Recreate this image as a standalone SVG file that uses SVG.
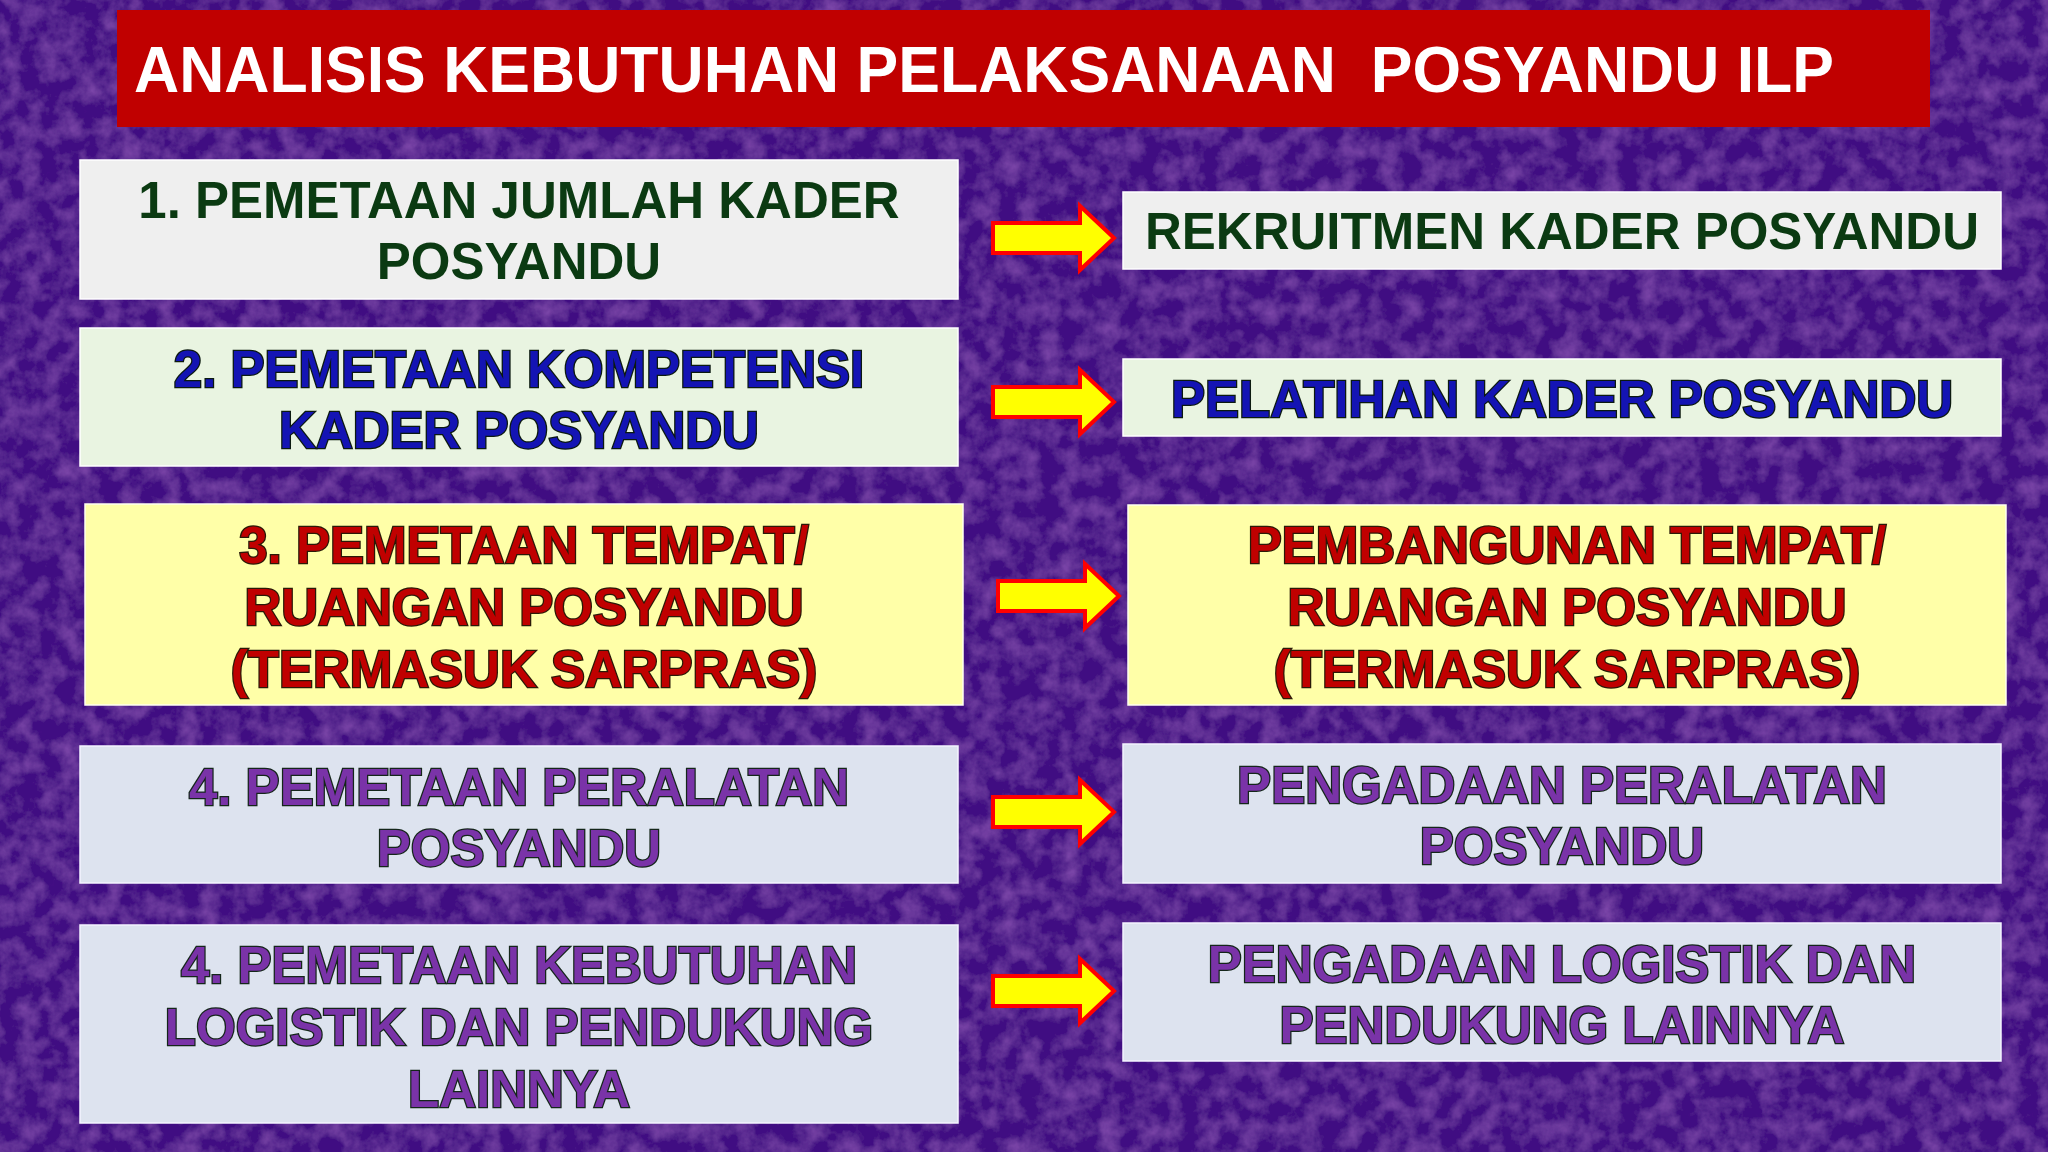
<svg xmlns="http://www.w3.org/2000/svg" xmlns:xlink="http://www.w3.org/1999/xlink" width="2048" height="1152" viewBox="0 0 2048 1152">
<style>
.t{font-family:"Liberation Sans",Arial,sans-serif;font-weight:bold;font-size:51px;text-anchor:middle;paint-order:stroke;}
.green{fill:#0b3a12;}
.blue{fill:#1414b4;stroke:#0c1a10;stroke-width:2.5px;}
.red{fill:#c00000;stroke:#2a1a08;stroke-width:2.5px;}
.purple{fill:#7a33a8;stroke:#14261a;stroke-width:2.5px;}
.b1{fill:#efefef;stroke:#ffffff;stroke-width:1.5;}
.b2{fill:#e9f4e1;stroke:#ffffff;stroke-width:1.5;}
.b3{fill:#ffffa8;stroke:#fffff0;stroke-width:1.5;}
.b4{fill:#dde3ef;stroke:#f4f4ff;stroke-width:1.5;}
.arrow{fill:#ffff00;stroke:#ff0000;stroke-width:4;stroke-linejoin:miter;}
</style>
<defs>
<filter id="tex" x="0" y="0" width="100%" height="100%">
<feTurbulence type="fractalNoise" baseFrequency="0.05" numOctaves="4" seed="7" result="n"/>
<feColorMatrix in="n" type="matrix" values="0 0 0 0 0.38  0 0 0 0 0.13  0 0 0 0 0.60  0 0 0 0.8 -0.3" result="c"/>
<feComposite in="c" in2="SourceGraphic" operator="over"/>
</filter>
<path id="arr" d="M0,-15 H87 V-32 L121,0 L87,32 V15 H0 Z"/>
</defs>
<rect x="0" y="0" width="2048" height="1152" fill="#400c82" filter="url(#tex)"/>

<g id="title">
<rect x="117" y="10" width="1813" height="117" fill="#c00000"/>
<text x="134" y="92" font-family="'Liberation Sans',Arial,sans-serif" font-weight="bold" font-size="64" fill="#ffffff" xml:space="preserve" textLength="1700" lengthAdjust="spacingAndGlyphs">ANALISIS KEBUTUHAN PELAKSANAAN  POSYANDU ILP</text>
</g>

<g id="left1">
<rect class="b1" x="80" y="160" width="878" height="139"/>
<text class="t green" x="519" y="218">1. PEMETAAN JUMLAH KADER</text>
<text class="t green" x="519" y="279">POSYANDU</text>
</g>
<g id="left2">
<rect class="b2" x="80" y="328" width="878" height="138"/>
<text class="t blue" x="519" y="387">2. PEMETAAN KOMPETENSI</text>
<text class="t blue" x="519" y="448">KADER POSYANDU</text>
</g>
<g id="left3">
<rect class="b3" x="85" y="504" width="878" height="201"/>
<text class="t red" x="524" y="563">3. PEMETAAN TEMPAT/</text>
<text class="t red" x="524" y="625">RUANGAN POSYANDU</text>
<text class="t red" x="524" y="687">(TERMASUK SARPRAS)</text>
</g>
<g id="left4">
<rect class="b4" x="80" y="746" width="878" height="137"/>
<text class="t purple" x="519" y="805">4. PEMETAAN PERALATAN</text>
<text class="t purple" x="519" y="866">POSYANDU</text>
</g>
<g id="left5">
<rect class="b4" x="80" y="925" width="878" height="198"/>
<text class="t purple" x="519" y="983">4. PEMETAAN KEBUTUHAN</text>
<text class="t purple" x="519" y="1045">LOGISTIK DAN PENDUKUNG</text>
<text class="t purple" x="519" y="1107">LAINNYA</text>
</g>

<g id="right1">
<rect class="b1" x="1123" y="192" width="878" height="77"/>
<text class="t green" x="1562" y="249">REKRUITMEN KADER POSYANDU</text>
</g>
<g id="right2">
<rect class="b2" x="1123" y="359" width="878" height="77"/>
<text class="t blue" x="1562" y="417">PELATIHAN KADER POSYANDU</text>
</g>
<g id="right3">
<rect class="b3" x="1128" y="505" width="878" height="200"/>
<text class="t red" x="1567" y="563">PEMBANGUNAN TEMPAT/</text>
<text class="t red" x="1567" y="625">RUANGAN POSYANDU</text>
<text class="t red" x="1567" y="687">(TERMASUK SARPRAS)</text>
</g>
<g id="right4">
<rect class="b4" x="1123" y="744" width="878" height="139"/>
<text class="t purple" x="1562" y="803">PENGADAAN PERALATAN</text>
<text class="t purple" x="1562" y="864">POSYANDU</text>
</g>
<g id="right5">
<rect class="b4" x="1123" y="923" width="878" height="138"/>
<text class="t purple" x="1562" y="982">PENGADAAN LOGISTIK DAN</text>
<text class="t purple" x="1562" y="1043">PENDUKUNG LAINNYA</text>
</g>

<g id="connectors">
<use xlink:href="#arr" class="arrow" x="993" y="238"/>
<use xlink:href="#arr" class="arrow" x="993" y="402"/>
<use xlink:href="#arr" class="arrow" x="998" y="596"/>
<use xlink:href="#arr" class="arrow" x="993" y="812"/>
<use xlink:href="#arr" class="arrow" x="993" y="991"/>
</g>
</svg>
